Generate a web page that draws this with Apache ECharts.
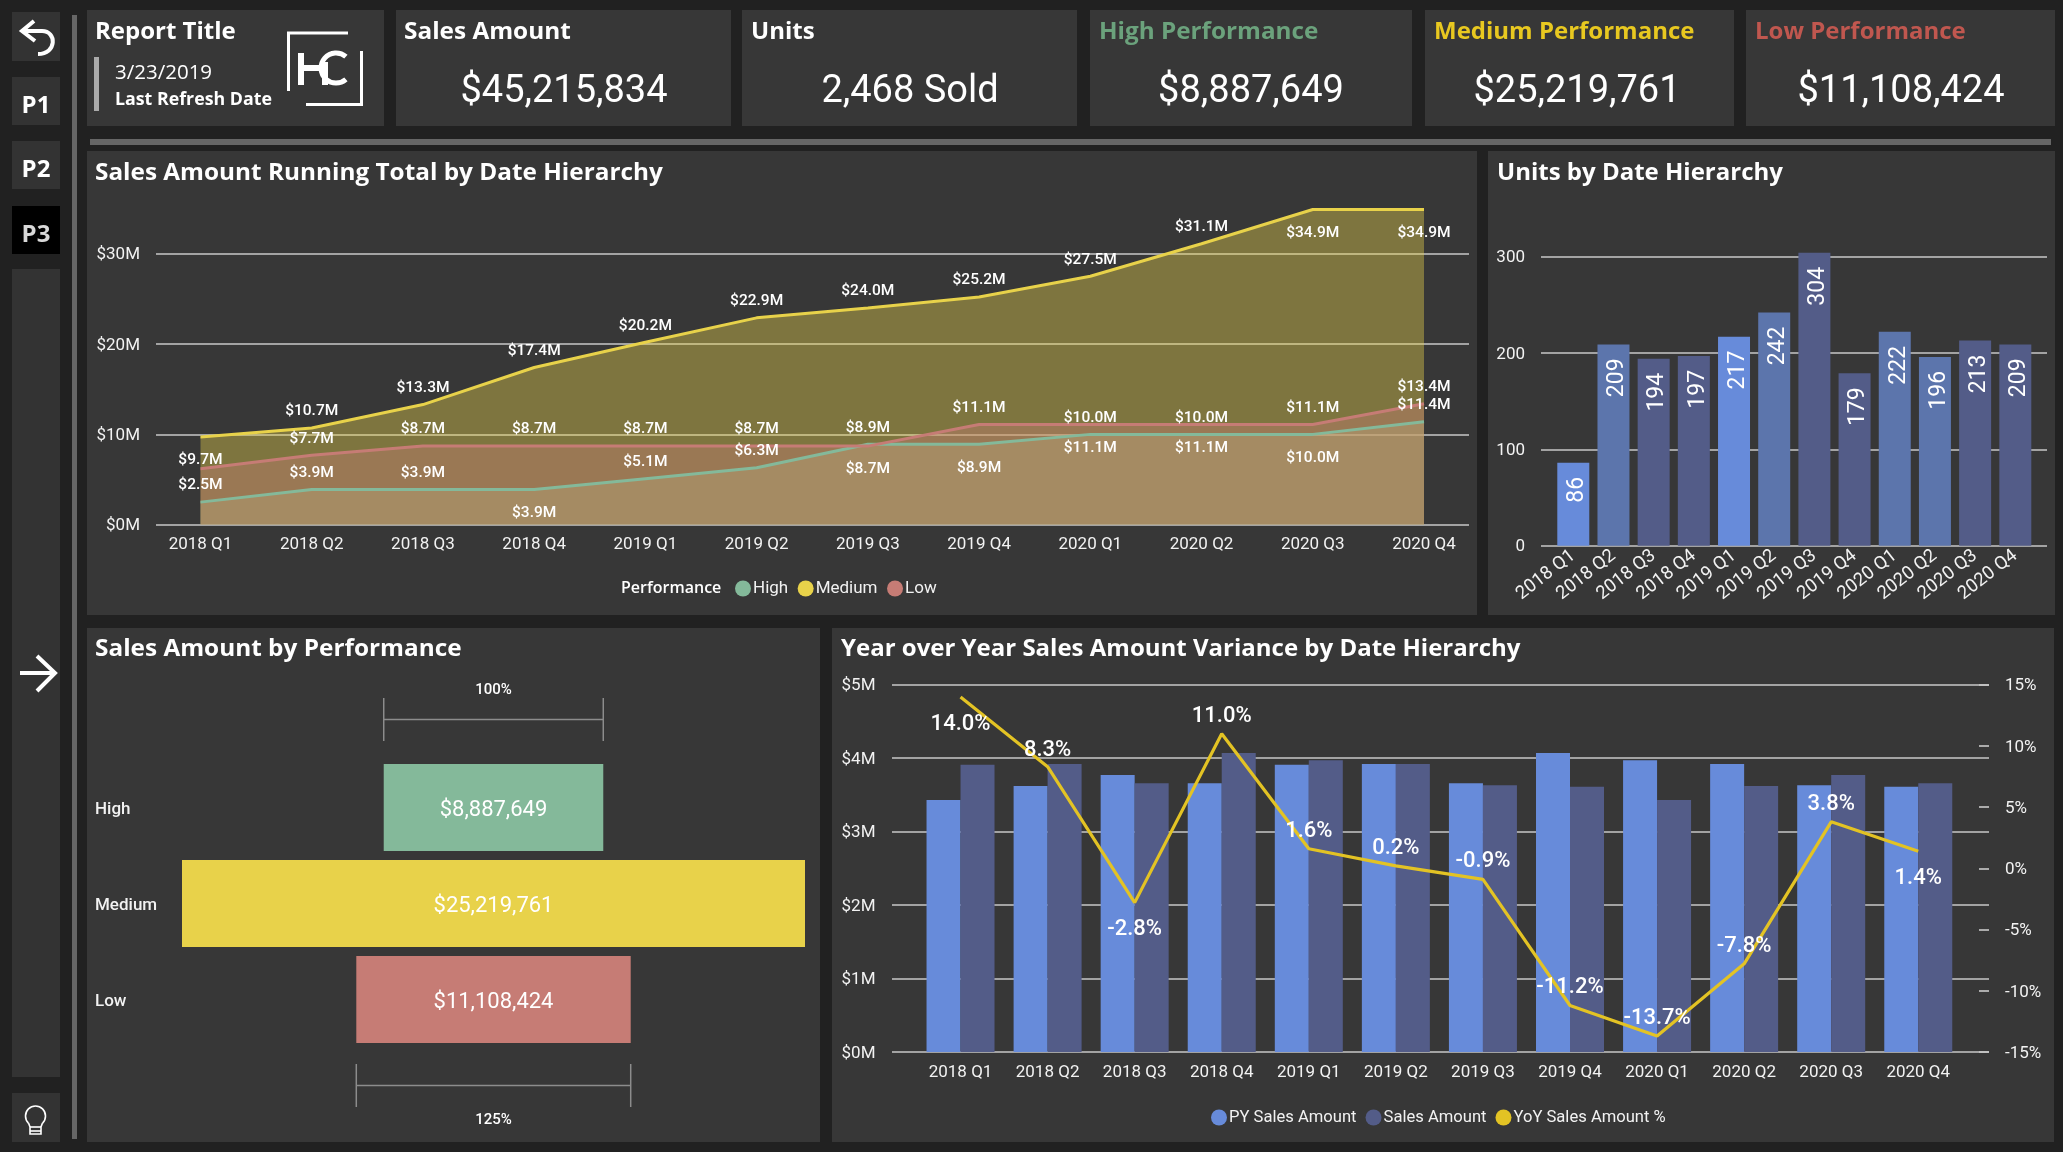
<!DOCTYPE html>
<html><head><meta charset="utf-8">
<style>html,body{margin:0;padding:0;background:#212121}#c{width:2063px;height:1152px}</style>
<script src="https://cdn.jsdelivr.net/npm/echarts@6/dist/echarts.min.js"></script>
</head><body><div id="c"></div>
<script>
const quarters=['2018 Q1','2018 Q2','2018 Q3','2018 Q4','2019 Q1','2019 Q2','2019 Q3','2019 Q4','2020 Q1','2020 Q2','2020 Q3','2020 Q4'];
// Running total ($M)
const runHigh=[2.5,3.9,3.9,3.9,5.1,6.3,8.9,8.9,10.0,10.0,10.0,11.4];
const runMedium=[9.7,10.7,13.3,17.4,20.2,22.9,24.0,25.2,27.5,31.1,34.9,34.9];
const runLow=[6.2,7.7,8.7,8.7,8.7,8.7,8.7,11.1,11.1,11.1,11.1,13.4];
// Units
const units=[86,209,194,197,217,242,304,179,222,196,213,209];
// Performance totals
const perfNames=['High','Medium','Low'];
const perfValues=[8887649,25219761,11108424];
// YoY
const pySales=[3.43,3.62,3.77,3.66,3.91,3.92,3.66,4.07,3.97,3.92,3.63,3.61];
const curSales=[3.91,3.92,3.66,4.07,3.97,3.92,3.63,3.61,3.43,3.62,3.77,3.66];
const yoyPct=[14.0,8.3,-2.8,11.0,1.6,0.2,-0.9,-11.2,-13.7,-7.8,3.8,1.4];
// KPI texts
const kpiTotal='$45,215,834', kpiUnits='2,468 Sold', kpiHigh='$8,887,649', kpiMedium='$25,219,761', kpiLow='$11,108,424', refreshDate='3/23/2019';

// Styles and label placement (separate from the data)
const A=-16.5,B=23.5; // label above / below the line
const highSide=[A,A,A,B,A,A,A,B,A,A,B,A];
const mediumSide=[B,A,A,A,A,A,A,A,A,A,B,B];
const lowSide=[null,A,A,A,A,A,B,A,B,B,A,A];
const yoySide=[27.5,-16.5,26.5,-17.5,-17.5,-17.5,-17.5,-17.5,-17.5,-17.5,-17.5,27.5];
const unitColors=['#678BDA','#5C75AC','#535C88','#535C88','#678BDA','#5C75AC','#535C88','#535C88','#5C75AC','#5C75AC','#535C88','#535C88'];
const GREEN='#84B99A',YELLOW='#E8D24A',RED='#C67C75',PY='#678BDA',CY='#535C88',YOY='#E3C324';
const F='Roboto',T='"Open Sans"',GRID='#c9c9c9',TXT='#f2f2f2',PANEL='#373737';

const g=[];
const rect=(x,y,w,h,fill)=>g.push({type:'rect',z:-10,shape:{x,y,width:w,height:h},style:{fill},silent:true});
const txt=(text,x,y,font,fill,align,sx)=>g.push({type:'text',z:5,x,y,scaleX:sx||1,style:{text,x:0,y:0,font,fill:fill||'#fff',textAlign:align||'left',textVerticalAlign:'middle'},silent:true});
const st=w=>({stroke:'#fff',lineWidth:w,fill:null});
const poly=(points,w)=>g.push({type:'polyline',z:5,shape:{points},style:st(w),silent:true});
const bez=(x1,y1,cpx1,cpy1,cpx2,cpy2,x2,y2,w)=>g.push({type:'bezierCurve',z:5,shape:{x1,y1,cpx1,cpy1,cpx2,cpy2,x2,y2},style:st(w),silent:true});
const arc=(cx,cy,r,startAngle,endAngle,w)=>g.push({type:'arc',z:5,shape:{cx,cy,r,startAngle,endAngle,clockwise:false},style:st(w),silent:true});

// nav
rect(12,12,48,49,'#333333');rect(12,77,48,48,'#333333');rect(12,141,48,48,'#333333');rect(12,206,48,48,'#000000');rect(12,269,48,808,'#333333');rect(12,1093,48,49,'#333333');
rect(72,15,5,1124,'#666666');rect(90,139,1961,6,'#666666');
txt('P1',36,106,'700 24px '+T,'#fff','center');txt('P2',36,170,'700 24px '+T,'#fff','center');txt('P3',36,235,'700 24px '+T,'#d8d8d8','center');
poly([[34,21],[22,31],[35,41]],4);poly([[23,31],[42,31]],4);bez(42,31,57,31,57,54,38,54,4);
poly([[20,673],[55,673]],4);poly([[37,656],[55,673],[37,691]],4);
arc(35.5,1116,10,Math.PI*0.25,Math.PI*0.75,1.6);
poly([[42.5,1123],[41,1127],[41,1134],[30,1134],[30,1127],[28.5,1123]],1.6);poly([[30,1127],[41,1127]],1.6);poly([[30,1131],[41,1131]],1.6);
// KPI cards
rect(87,10,297,116,PANEL);rect(396,10,335,116,PANEL);rect(742,10,335,116,PANEL);rect(1090,10,322,116,PANEL);rect(1425,10,309,116,PANEL);rect(1746,10,309,116,PANEL);
const kt='700 24px '+T;
txt('Report Title',95,32,kt);txt('Sales Amount',404,32,kt,'#fff','left',1.015);txt('Units',751,32,kt);
txt('High Performance',1099,32,kt,'#6BA27C','left',1.012);txt('Medium Performance',1434,32,kt,'#E8C820');txt('Low Performance',1755,32,kt,'#C0574F');
const kv='400 38px '+F;
txt(kpiTotal,564,92,kv,'#fff','center');txt(kpiUnits,910,92,kv,'#fff','center');txt(kpiHigh,1251,92,kv,'#fff','center');txt(kpiMedium,1577,92,kv,'#fff','center');txt(kpiLow,1901,92,kv,'#fff','center');
rect(94,57,5,54,'#aaaaaa');
txt(refreshDate,115,73,'400 20.5px '+T);txt('Last Refresh Date',115,99.5,'700 17.8px '+T);
poly([[348,33],[288.5,33],[288.5,91]],3);poly([[306,104.5],[361.5,104.5],[361.5,51]],3);
poly([[301,53],[301,85]],6);poly([[301,68],[325,68]],6);poly([[325,62],[325,85]],6);
arc(336,68,15,-Math.PI*0.27,Math.PI*0.27,5);
// panels
rect(87,151,1390,464,PANEL);rect(1488,151,567,464,PANEL);rect(87,628,733,514,PANEL);rect(832,628,1222,514,PANEL);
const pt='700 24px '+T;
txt('Sales Amount Running Total by Date Hierarchy',95,173,pt,'#fff','left',1.014);txt('Units by Date Hierarchy',1497,173,pt);
txt('Sales Amount by Performance',95,649,pt,'#fff','left',1.015);txt('Year over Year Sales Amount Variance by Date Hierarchy',841,649,pt);
txt('Performance',621,588.5,'600 16px '+T);

const font={fontFamily:F,fontSize:17,color:TXT};
// rich-text style nudges axis labels slightly below their gridlines, as in the reference
const nudged=(extra,pad)=>({a:{...font,...extra,padding:[pad,0,0,0]}});
const hiddenCat={type:'category',show:false,data:[]};
const lines=(gridIndex,min,max,interval,fmt,margin)=>({gridIndex,type:'value',min,max,interval,axisLine:{show:false},axisTick:{show:false},
  axisLabel:{...font,formatter:v=>'{a|'+fmt(v)+'}',rich:nudged({},3),margin},splitLine:{show:true,lineStyle:{color:GRID,width:1.6}}});
const hiddenVal=(gridIndex,min,max)=>({gridIndex,type:'value',show:false,min,max,splitLine:{show:false}});
const catAxis=(gridIndex,extra)=>({gridIndex,type:'category',data:quarters,axisLine:{show:false},axisTick:{show:false},...extra,
  axisLabel:{...font,interval:0,margin:11.5,...(extra&&extra.axisLabel||{})}});

const money=v=>'$'+v.toFixed(1)+'M';
const labelled=(vals,side,fmt)=>vals.map((v,i)=>({value:v,label:{show:side[i]!==null,offset:[0,side[i]||0],formatter:()=>fmt(v)}}));
const area=(name,data,color)=>({name,type:'line',xAxisIndex:1,yAxisIndex:1,data,symbol:'none',lineStyle:{width:0},areaStyle:{color,opacity:0.4},z:2,silent:true});
const trend=(name,vals,side,color)=>({name,type:'line',xAxisIndex:1,yAxisIndex:1,data:labelled(vals,side,money),symbol:'circle',symbolSize:0,showAllSymbol:true,
  lineStyle:{color,width:3},itemStyle:{color},label:{show:true,position:'inside',fontFamily:F,fontSize:15.5,fontWeight:500,color:'#fff'},z:4,silent:true});

const perfMax=Math.max(...perfValues);
const brackets=[[0,'100%',698,741,690.5],[2,'125%',1064,1107,1120.5]];
const option={
 animation:false,backgroundColor:'#212121',
 graphic:{elements:g},
 legend:[
  {data:['High','Medium','Low'],left:730,top:575,itemWidth:16,itemHeight:16,icon:'circle',itemGap:9.5,selectedMode:false,textStyle:{...font,padding:[0,0,0,-3]}},
  {data:['PY Sales Amount','Sales Amount','YoY Sales Amount %'],left:1206,top:1104,itemWidth:16,itemHeight:16,icon:'circle',itemGap:9,selectedMode:false,textStyle:{...font,fontSize:16.6,padding:[0,0,0,-3]}}
 ],
 grid:[
  {left:156,width:1313,top:253.7,height:271},
  {left:200.5,width:1223.5,top:163.4,height:361.3},
  {left:1541,width:506,top:256.7,height:289},
  {left:1553.2,width:482.2,top:160.4,height:385.3},
  {left:182,width:623,top:759.5,height:288},
  {left:892,width:1097,top:684.7,height:367.3},
  {left:917,width:1044.8,top:684.7,height:367.3}
 ],
 xAxis:[
  {...hiddenCat,gridIndex:0},
  catAxis(1,{boundaryGap:false}),
  {...hiddenCat,gridIndex:2},
  catAxis(3,{axisLabel:{rotate:38,margin:8,fontSize:18.5}}),
  {gridIndex:4,type:'value',show:false,min:0,max:perfMax,splitLine:{show:false}},
  {...hiddenCat,gridIndex:5},
  catAxis(6,{axisLabel:{margin:12.5}})
 ],
 yAxis:[
  lines(0,0,30,10,v=>'$'+v+'M',16),
  hiddenVal(1,0,40),
  lines(2,0,300,100,v=>''+v,16),
  hiddenVal(3,0,400),
  {gridIndex:4,type:'category',inverse:true,data:perfNames,axisLine:{show:false},axisTick:{show:false},axisLabel:{...font,fontWeight:500,align:'left',margin:87,formatter:v=>'{a|'+v+'}',rich:nudged({fontWeight:500},5)}},
  lines(5,0,5,1,v=>'$'+v+'M',16.5),
  {gridIndex:5,type:'value',position:'right',min:-15,max:15,interval:5,axisLine:{show:false},splitLine:{show:false},
   axisTick:{show:true,inside:true,length:10,lineStyle:{color:GRID,width:1.6}},axisLabel:{...font,margin:16,rich:nudged({},3),formatter:v=>'{a|'+v+'%}'}},
  hiddenVal(6,0,5),
  hiddenVal(6,-15,15)
 ],
 series:[
  area('High area',runHigh,GREEN),area('Medium area',runMedium,YELLOW),area('Low area',runLow,RED),
  trend('High',runHigh,highSide,GREEN),trend('Medium',runMedium,mediumSide,YELLOW),trend('Low',runLow,lowSide,RED),
  {name:'Units',type:'bar',xAxisIndex:3,yAxisIndex:3,barWidth:32,data:units.map((v,i)=>({value:v,itemStyle:{color:unitColors[i]}})),
   label:{show:true,position:'insideTop',rotate:90,distance:14,align:'right',verticalAlign:'middle',offset:[0,4],fontFamily:F,fontSize:23,color:'#fff'},silent:true},
  {name:'spacer',type:'bar',xAxisIndex:4,yAxisIndex:4,stack:'p',barWidth:87,data:perfValues.map(v=>(perfMax-v)/2),itemStyle:{color:'transparent'},silent:true},
  {name:'Performance',type:'bar',xAxisIndex:4,yAxisIndex:4,stack:'p',barWidth:87,
   data:perfValues.map((v,i)=>({value:v,itemStyle:{color:[GREEN,YELLOW,RED][i]}})),
   label:{show:true,position:'inside',offset:[0,3],fontFamily:F,fontSize:22,color:'#fff',formatter:p=>'$'+p.value.toLocaleString('en-US')},silent:true},
  {name:'brackets',type:'custom',xAxisIndex:4,yAxisIndex:4,silent:true,
   data:brackets.map(b=>[b[0]]),
   renderItem:(params,api)=>{
     const b=brackets[params.dataIndex],v=perfValues[b[0]],s=(perfMax-v)/2;
     const x0=api.coord([s,0])[0],x1=api.coord([s+v,0])[0],mid=(b[2]+b[3])/2;
     const ls={stroke:'#8c8c8c',lineWidth:1.5};
     const ln=(a,c,d,e)=>({type:'line',shape:{x1:a,y1:c,x2:d,y2:e},style:ls});
     return {type:'group',children:[ln(x0,b[2],x0,b[3]),ln(x1,b[2],x1,b[3]),ln(x0,mid,x1,mid),
       {type:'text',style:{text:Math.round(v/perfValues[0]*100)+'%',x:(x0+x1)/2,y:b[4],textAlign:'center',textVerticalAlign:'middle',font:'500 15px '+F,fill:'#fff'}}]};
   }},
  {name:'PY Sales Amount',type:'bar',xAxisIndex:6,yAxisIndex:7,barWidth:34,barGap:0,data:pySales,itemStyle:{color:PY},silent:true},
  {name:'Sales Amount',type:'bar',xAxisIndex:6,yAxisIndex:7,barWidth:34,barGap:0,data:curSales,itemStyle:{color:CY},silent:true},
  {name:'YoY Sales Amount %',type:'line',xAxisIndex:6,yAxisIndex:8,symbol:'circle',symbolSize:0,showAllSymbol:true,z:4,silent:true,
   data:labelled(yoyPct,yoySide,v=>v.toFixed(1)+'%'),lineStyle:{color:YOY,width:3.2},itemStyle:{color:YOY},
   label:{show:true,position:'inside',fontFamily:F,fontSize:22,fontWeight:500,color:'#fff'}}
 ]
};
const chart=echarts.init(document.getElementById('c'));
chart.setOption(option);
</script></body></html>
